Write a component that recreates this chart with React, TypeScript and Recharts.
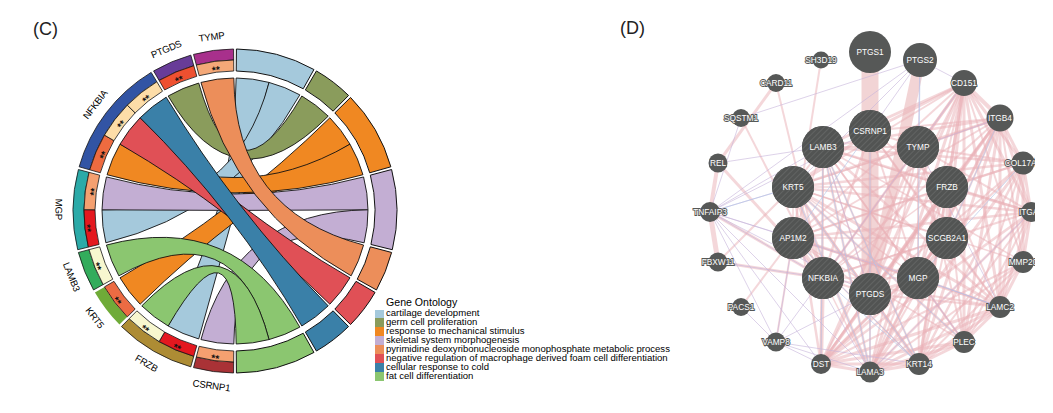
import { Cell, Customized, Legend, Pie, PieChart, ReferenceLine, Scatter, ScatterChart, XAxis, YAxis } from "recharts";

const FONT = "'Liberation Sans', Arial, sans-serif";

// ---- panel C: gene ontology chord ----
const goTerms = [
  "cartilage development",
  "germ cell proliferation",
  "response to mechanical stimulus",
  "skeletal system morphogenesis",
  "pyrimidine deoxyribonucleoside monophosphate metabolic process",
  "negative regulation of macrophage derived foam cell differentiation",
  "cellular response to cold",
  "fat cell differentiation",
];
const goColors = ["#A5C9DC", "#8A9C5C", "#F08822", "#C3AED3", "#EC8E5A", "#E05056", "#3A80A8", "#8BC670"];
const termGenes = [
  ["FRZB", "MGP"],
  ["PTGDS"],
  ["KRT5", "NFKBIA"],
  ["MGP", "CSRNP1"],
  ["TYMP"],
  ["NFKBIA"],
  ["NFKBIA"],
  ["LAMB3", "FRZB"],
];

const genes = ["CSRNP1", "FRZB", "KRT5", "LAMB3", "MGP", "NFKBIA", "PTGDS", "TYMP"];
const geneColors = ["#A93236", "#AD8C34", "#6FAB38", "#33AC5C", "#2BAAA8", "#3254A4", "#683C98", "#A8308C"];
const geneTerms = [
  [3],
  [0, 7],
  [2],
  [7],
  [0, 3],
  [2, 5, 6],
  [1],
  [4],
];
const geneSlotColors = [
  ["#F4A070"],
  ["#E4181F", "#F7F7CF"],
  ["#EC6B43"],
  ["#F7F7CF"],
  ["#E4181F", "#F4A070"],
  ["#EE6B40", "#FDDDA8", "#FDDDA8"],
  ["#EE5030"],
  ["#F4A878"],
];

const CX = 235;
const CY = 211;
const R_LINK = 133;
const R_TRACK = 140;
const R_MID = 151;
const R_OUT = 162;
const GAP = 1;

// clockwise degrees from 12 o'clock, same split the Pie does with paddingAngle
const arcs = (counts: number[], from: number) => {
  const total = counts.reduce((a, b) => a + b, 0);
  const unit = (180 - GAP - GAP * (counts.length - 1)) / total;
  let at = from;
  return counts.map((c) => {
    const start = at;
    const end = at + c * unit;
    at = end + GAP;
    return { start, end, unit };
  });
};

const goArcs = arcs(termGenes.map((t) => t.length), 0.5);
const geneArcs = arcs(geneTerms.map((t) => t.length), 180.5);

const pt = (deg: number, r: number) => {
  const a = (deg * Math.PI) / 180;
  return `${(CX + r * Math.sin(a)).toFixed(2)} ${(CY - r * Math.cos(a)).toFixed(2)}`;
};

const ribbonPath = (a1: number, a2: number, b1: number, b2: number) =>
  `M${pt(a1, R_LINK)} A${R_LINK} ${R_LINK} 0 0 1 ${pt(a2, R_LINK)} Q${CX} ${CY} ${pt(b1, R_LINK)} A${R_LINK} ${R_LINK} 0 0 1 ${pt(b2, R_LINK)} Q${CX} ${CY} ${pt(a1, R_LINK)} Z`;

const Ribbons = () => (
  <g>
    {goTerms.map((_, t) =>
      termGenes[t].map((gene, j) => {
        const g = genes.indexOf(gene);
        const k = geneTerms[g].indexOf(t);
        const ga = geneArcs[g];
        const ta = goArcs[t];
        return (
          <path
            key={`${t}-${j}`}
            d={ribbonPath(ga.start + k * ga.unit, ga.start + (k + 1) * ga.unit, ta.start + j * ta.unit, ta.start + (j + 1) * ta.unit)}
            fill={goColors[t]}
            stroke="#111"
            strokeWidth={0.9}
          />
        );
      }),
    )}
  </g>
);

const geneLabel = (p: any) => {
  const th = ((90 - p.midAngle) % 360 + 360) % 360;
  const a = (th * Math.PI) / 180;
  const x = CX + 176 * Math.sin(a);
  const y = CY - 176 * Math.cos(a);
  const rot = th <= 275 ? th - 180 : th - 360;
  return (
    <text key={p.index} x={x} y={y} transform={`rotate(${rot} ${x} ${y})`} textAnchor="middle" dominantBaseline="central" fontFamily={FONT} fontSize={9.6} letterSpacing={-0.2} fill="#000" stroke="none">
      {p.payload.name}
    </text>
  );
};

const starLabel = (p: any) => {
  const th = ((90 - p.midAngle) % 360 + 360) % 360;
  const a = (th * Math.PI) / 180;
  const x = CX + 145.5 * Math.sin(a);
  const y = CY - 145.5 * Math.cos(a);
  const rot = th <= 270 ? th - 180 : th - 360;
  return (
    <text key={p.index} x={x} y={y} dy={3} transform={`rotate(${rot} ${x} ${y})`} textAnchor="middle" dominantBaseline="central" fontFamily={FONT} fontWeight="bold" fontSize={10} fill="#111" stroke="none">
      {p.payload.sig}
    </text>
  );
};

const GoLegend = () => (
  <div style={{ position: "relative", width: 300, height: 90, fontFamily: FONT, color: "#000" }}>
    <div style={{ position: "absolute", left: 11, top: 0, fontSize: 10.6, lineHeight: "12px" }}>Gene Ontology</div>
    {goTerms.map((term, i) => (
      <div key={term} style={{ position: "absolute", left: 0, top: 13.6 + i * 8.87, height: 8.87, width: 300 }}>
        <span style={{ position: "absolute", left: 0, top: 0, width: 9, height: 8.87, background: goColors[i] }} />
        <span style={{ position: "absolute", left: 11, top: -1.2, fontSize: 9.55, lineHeight: "10px", whiteSpace: "nowrap" }}>{term}</span>
      </div>
    ))}
  </div>
);

// ---- panel D: gene network ----
const nodeNames = [
  "PTGS1", "PTGS2", "SH3D19", "CARD11", "CD151", "SQSTM1", "ITGB4", "CSRNP1", "LAMB3", "TYMP",
  "REL", "COL17A1", "KRT5", "FRZB", "TNFAIP3", "ITGA6", "AP1M2", "SCGB2A1", "FBXW11", "MMP20",
  "NFKBIA", "MGP", "PTGDS", "PACS1", "LAMC2", "VAMP8", "PLEC", "DST", "KRT14", "LAMA3",
];
const nodeX = [870, 920, 821, 776, 964, 741, 1000, 870, 823, 918, 718, 1023, 793, 947, 710, 1031, 793, 947, 718, 1023, 823, 918, 870, 741, 1000, 776, 964, 821, 919, 870];
const nodeY = [52, 60, 60, 83, 83, 118, 118, 131, 147, 147, 163, 163, 187, 187, 212, 212, 238, 238, 262, 262, 278, 278, 294, 307, 307, 342, 342, 364, 364, 372];
const nodeWeight = [21, 17, 8.5, 9, 13, 9, 13.5, 21, 21, 21, 9.5, 11.5, 21, 21, 10, 10, 21, 21, 9.5, 11, 21, 21, 21, 9, 11, 9.5, 11, 10, 11, 10.5];
const queryGenes = ["CSRNP1", "LAMB3", "TYMP", "KRT5", "FRZB", "AP1M2", "SCGB2A1", "NFKBIA", "MGP", "PTGDS"];

type Edge = [string, string, number];
const coexpression: Edge[] = [
  ["CSRNP1", "NFKBIA", 2.5], ["CSRNP1", "CD151", 3], ["CSRNP1", "ITGB4", 2], ["CSRNP1", "TYMP", 2],
  ["CSRNP1", "MGP", 2], ["CSRNP1", "SCGB2A1", 2], ["CSRNP1", "PTGDS", 3], ["CSRNP1", "KRT5", 3], ["CSRNP1", "FRZB", 2], ["CSRNP1", "LAMC2", 2],
  ["LAMB3", "CD151", 3], ["LAMB3", "ITGB4", 2.5], ["LAMB3", "COL17A1", 2.5], ["LAMB3", "ITGA6", 2.5], ["LAMB3", "LAMC2", 2.5], ["LAMB3", "LAMA3", 2.5],
  ["LAMB3", "KRT14", 2], ["LAMB3", "DST", 2], ["LAMB3", "PLEC", 2], ["LAMB3", "KRT5", 2], ["LAMB3", "MMP20", 1.5], ["LAMB3", "FRZB", 1.5],
  ["LAMB3", "MGP", 1.5], ["LAMB3", "AP1M2", 1.5], ["LAMB3", "PTGDS", 1.5], ["LAMB3", "NFKBIA", 1.5], ["LAMB3", "TYMP", 2],
  ["KRT5", "CD151", 2], ["KRT5", "ITGB4", 2.5], ["KRT5", "COL17A1", 2.5], ["KRT5", "ITGA6", 2.5], ["KRT5", "LAMC2", 3], ["KRT5", "LAMA3", 3],
  ["KRT5", "KRT14", 3.5], ["KRT5", "DST", 2.5], ["KRT5", "PLEC", 2.5], ["KRT5", "MMP20", 1.5], ["KRT5", "FRZB", 1.5], ["KRT5", "SCGB2A1", 1.5],
  ["KRT5", "MGP", 1.5], ["KRT5", "TYMP", 1.5], ["KRT5", "AP1M2", 1.5], ["KRT5", "PTGDS", 2], ["KRT5", "NFKBIA", 3],
  ["CD151", "ITGB4", 4], ["CD151", "COL17A1", 3], ["CD151", "ITGA6", 3], ["CD151", "MMP20", 2], ["CD151", "LAMC2", 3], ["CD151", "PLEC", 3],
  ["CD151", "KRT14", 3], ["CD151", "LAMA3", 3], ["CD151", "DST", 2], ["CD151", "MGP", 2], ["CD151", "SCGB2A1", 3], ["CD151", "PTGDS", 3],
  ["CD151", "TYMP", 3], ["CD151", "FRZB", 3], ["CD151", "AP1M2", 2], ["CD151", "NFKBIA", 2.5],
  ["ITGB4", "COL17A1", 3], ["ITGB4", "ITGA6", 3], ["ITGB4", "MMP20", 2], ["ITGB4", "LAMC2", 3], ["ITGB4", "PLEC", 3], ["ITGB4", "KRT14", 3],
  ["ITGB4", "LAMA3", 3], ["ITGB4", "DST", 3], ["ITGB4", "SCGB2A1", 2], ["ITGB4", "TYMP", 2], ["ITGB4", "AP1M2", 2], ["ITGB4", "MGP", 2],
  ["ITGB4", "PTGDS", 2.5], ["ITGB4", "FRZB", 2.5], ["ITGB4", "NFKBIA", 2],
  ["COL17A1", "ITGA6", 3], ["COL17A1", "MMP20", 3], ["COL17A1", "LAMC2", 3], ["COL17A1", "PLEC", 2], ["COL17A1", "KRT14", 2.5], ["COL17A1", "LAMA3", 3],
  ["COL17A1", "DST", 2], ["COL17A1", "TYMP", 2], ["COL17A1", "FRZB", 2], ["COL17A1", "AP1M2", 2], ["COL17A1", "PTGDS", 2],
  ["ITGA6", "MMP20", 3], ["ITGA6", "LAMC2", 3], ["ITGA6", "PLEC", 2], ["ITGA6", "KRT14", 2], ["ITGA6", "LAMA3", 2.5], ["ITGA6", "DST", 2.5],
  ["ITGA6", "AP1M2", 2.5], ["ITGA6", "FRZB", 2.5], ["ITGA6", "TYMP", 2], ["ITGA6", "NFKBIA", 2],
  ["MMP20", "LAMC2", 3], ["MMP20", "PLEC", 2], ["MMP20", "KRT14", 2], ["MMP20", "LAMA3", 2], ["MMP20", "DST", 2],
  ["LAMC2", "PLEC", 3], ["LAMC2", "KRT14", 3], ["LAMC2", "LAMA3", 3], ["LAMC2", "DST", 3], ["LAMC2", "MGP", 2], ["LAMC2", "AP1M2", 2],
  ["LAMC2", "NFKBIA", 2], ["LAMC2", "FRZB", 2], ["LAMC2", "SCGB2A1", 2], ["LAMC2", "PTGDS", 2],
  ["PLEC", "KRT14", 3], ["PLEC", "LAMA3", 3], ["PLEC", "DST", 3], ["PLEC", "TYMP", 2], ["PLEC", "FRZB", 2], ["PLEC", "MGP", 2], ["PLEC", "AP1M2", 1.5],
  ["KRT14", "LAMA3", 3], ["KRT14", "DST", 3], ["KRT14", "PTGDS", 2], ["KRT14", "SCGB2A1", 2], ["KRT14", "MGP", 2], ["KRT14", "AP1M2", 1.5], ["KRT14", "FRZB", 2],
  ["LAMA3", "DST", 3], ["LAMA3", "PTGDS", 2], ["LAMA3", "MGP", 2], ["LAMA3", "TYMP", 2], ["LAMA3", "FRZB", 2], ["LAMA3", "SCGB2A1", 2], ["LAMA3", "NFKBIA", 1.5],
  ["DST", "NFKBIA", 4], ["DST", "MGP", 3], ["DST", "SCGB2A1", 3], ["DST", "FRZB", 3], ["DST", "TYMP", 3], ["DST", "PTGDS", 2],
  ["AP1M2", "NFKBIA", 3], ["AP1M2", "PTGDS", 2], ["AP1M2", "FRZB", 1.5], ["AP1M2", "SCGB2A1", 1.5], ["AP1M2", "MGP", 3],
  ["NFKBIA", "PTGDS", 2], ["NFKBIA", "MGP", 1.5], ["NFKBIA", "TYMP", 1.5], ["NFKBIA", "FRZB", 1.5], ["NFKBIA", "SCGB2A1", 1.5], ["NFKBIA", "REL", 3],
  ["NFKBIA", "TNFAIP3", 3], ["NFKBIA", "FBXW11", 3], ["NFKBIA", "SQSTM1", 2], ["NFKBIA", "CARD11", 2],
  ["TYMP", "PTGDS", 2], ["TYMP", "MGP", 2], ["TYMP", "SCGB2A1", 2], ["FRZB", "PTGDS", 3], ["FRZB", "MGP", 2], ["FRZB", "SCGB2A1", 3],
  ["MGP", "PTGDS", 3], ["MGP", "SCGB2A1", 3], ["CARD11", "REL", 3], ["REL", "TNFAIP3", 4], ["TNFAIP3", "FBXW11", 5], ["SH3D19", "AP1M2", 2],
  ["PACS1", "AP1M2", 2], ["VAMP8", "AP1M2", 2], ["FBXW11", "KRT5", 2],
];
const pathway: Edge[] = [
  ["TNFAIP3", "KRT5", 1], ["TNFAIP3", "LAMB3", 1], ["TNFAIP3", "CSRNP1", 1], ["TNFAIP3", "PTGS2", 1], ["TNFAIP3", "AP1M2", 1], ["TNFAIP3", "NFKBIA", 1],
  ["TNFAIP3", "PTGDS", 1], ["TNFAIP3", "MGP", 1], ["TNFAIP3", "VAMP8", 1], ["TNFAIP3", "SQSTM1", 1], ["TNFAIP3", "LAMA3", 1], ["TNFAIP3", "DST", 1],
  ["SQSTM1", "PTGS2", 1], ["REL", "LAMB3", 1], ["KRT5", "PTGS2", 1], ["VAMP8", "NFKBIA", 1], ["VAMP8", "PTGDS", 1], ["VAMP8", "DST", 1],
  ["VAMP8", "LAMA3", 1], ["VAMP8", "KRT14", 1], ["VAMP8", "AP1M2", 1], ["PTGS2", "TYMP", 1], ["PTGS2", "CD151", 1], ["PTGS2", "CSRNP1", 1],
  ["ITGB4", "TYMP", 1], ["LAMC2", "TYMP", 1], ["LAMC2", "MGP", 1], ["ITGA6", "LAMA3", 1], ["PACS1", "VAMP8", 1], ["FBXW11", "NFKBIA", 1],
  ["AP1M2", "LAMA3", 1], ["NFKBIA", "CD151", 1], ["MGP", "PLEC", 1], ["LAMB3", "PTGDS", 1],
];
const colocalization: Edge[] = [
  ["TNFAIP3", "KRT5", 1], ["LAMB3", "LAMA3", 1], ["KRT5", "PLEC", 1], ["PTGS2", "MGP", 1], ["AP1M2", "KRT14", 1], ["NFKBIA", "KRT14", 1],
  ["LAMB3", "DST", 1], ["CSRNP1", "LAMA3", 1], ["MGP", "LAMC2", 1], ["KRT5", "LAMA3", 1], ["COL17A1", "MGP", 1], ["ITGB4", "SCGB2A1", 1],
  ["LAMB3", "KRT14", 1], ["KRT5", "KRT14", 1], ["CSRNP1", "AP1M2", 1],
];
const heavyEdge: Edge[] = [["PTGS1", "PTGDS", 17], ["PTGS2", "PTGDS", 11]];

const nodes = nodeNames.map((name, i) => ({ name, x: nodeX[i], y: nodeY[i], weight: nodeWeight[i] }));
const byName = (name: string) => nodes[nodeNames.indexOf(name)];

const edgeLines = (edges: Edge[], color: string, opacity: number, tag: string) =>
  edges.map(([a, b, w], i) => {
    const p = byName(a);
    const q = byName(b);
    return (
      <ReferenceLine
        key={`${tag}${i}`}
        segment={[{ x: p.x, y: p.y }, { x: q.x, y: q.y }]}
        stroke={color}
        strokeOpacity={opacity}
        strokeWidth={w}
        ifOverflow="visible"
      />
    );
  });

const NodeDot = (p: any) => {
  const hatched = queryGenes.includes(p.payload.name);
  return (
    <g>
      <circle cx={p.cx} cy={p.cy} r={p.payload.weight} fill="#565857" />
      {hatched && <circle cx={p.cx} cy={p.cy} r={p.payload.weight} fill="url(#nodeHatch)" />}
      <text
        x={p.cx}
        y={p.cy}
        textAnchor="middle"
        dominantBaseline="central"
        fontFamily={FONT}
        fontSize={8.3}
        fill="#FFFFFF"
        stroke={hatched ? "none" : "#565857"}
        strokeWidth={1.8}
        style={{ paintOrder: "stroke" }}
      >
        {p.payload.name}
      </text>
    </g>
  );
};

export default function App() {
  return (
    <div style={{ position: "absolute", left: 0, top: 0, width: 1053, height: 413, background: "#fff", overflow: "hidden", fontFamily: FONT }}>
      <div style={{ position: "absolute", left: 33, top: 18, fontSize: 18, lineHeight: "22px", color: "#222" }}>(C)</div>
      <div style={{ position: "absolute", left: 620, top: 17, fontSize: 18, lineHeight: "22px", color: "#222" }}>(D)</div>

      <div style={{ position: "absolute", left: 0, top: 0 }}>
        <PieChart width={700} height={413} margin={{ top: 0, right: 0, bottom: 0, left: 0 }}>
          <Customized component={<Ribbons />} />
          <Pie
            data={goTerms.map((name, i) => ({ name, value: termGenes[i].length }))}
            dataKey="value"
            cx={CX}
            cy={CY}
            innerRadius={R_TRACK}
            outerRadius={R_OUT}
            startAngle={89.5}
            endAngle={-89.5}
            paddingAngle={GAP}
            stroke="#111"
            strokeWidth={1}
            isAnimationActive={false}
            legendType="none"
          >
            {goTerms.map((t, i) => (
              <Cell key={t} fill={goColors[i]} />
            ))}
          </Pie>
          <Pie
            data={genes.map((name, i) => ({ name, value: geneTerms[i].length }))}
            dataKey="value"
            cx={CX}
            cy={CY}
            innerRadius={R_MID}
            outerRadius={R_OUT}
            startAngle={-90.5}
            endAngle={-269.5}
            paddingAngle={GAP}
            stroke="#111"
            strokeWidth={0.8}
            isAnimationActive={false}
            label={geneLabel}
            labelLine={false}
            legendType="none"
          >
            {genes.map((g, i) => (
              <Cell key={g} fill={geneColors[i]} stroke={g === "KRT5" ? "none" : "#111"} />
            ))}
          </Pie>
          {genes.map((g, i) => (
            <Pie
              key={g}
              data={geneTerms[i].map((t) => ({ name: goTerms[t], value: 1, sig: "**" }))}
              dataKey="value"
              cx={CX}
              cy={CY}
              innerRadius={R_TRACK}
              outerRadius={R_MID}
              startAngle={90 - geneArcs[i].start}
              endAngle={90 - geneArcs[i].end}
              stroke="#111"
              strokeWidth={0.8}
              isAnimationActive={false}
              label={starLabel}
              labelLine={false}
              legendType="none"
            >
              {geneSlotColors[i].map((c, j) => (
                <Cell key={j} fill={c} />
              ))}
            </Pie>
          ))}
          <Legend content={<GoLegend />} layout="vertical" wrapperStyle={{ left: 375, top: 296, width: 300, bottom: "auto", right: "auto" }} />
        </PieChart>
      </div>

      <div style={{ position: "absolute", left: 600, top: 0 }}>
        <ScatterChart width={435} height={413} margin={{ top: 0, right: 0, bottom: 0, left: 0 }}>
          <defs>
            <pattern id="nodeHatch" width="4" height="4" patternUnits="userSpaceOnUse" patternTransform="rotate(45)">
              <rect width="4" height="4" fill="#525453" />
              <line x1="0" y1="0" x2="0" y2="4" stroke="#666867" strokeWidth="1.6" />
            </pattern>
          </defs>
          <XAxis type="number" dataKey="x" domain={[600, 1035]} hide />
          <YAxis type="number" dataKey="y" domain={[0, 413]} reversed hide />
          {edgeLines(heavyEdge, "#EFC9CB", 0.8, "h")}
          {edgeLines(coexpression, "#E9B0B6", 0.5, "c")}
          {edgeLines(pathway, "#C6B4DB", 0.6, "p")}
          {edgeLines(colocalization, "#B4C4E8", 0.65, "l")}
          <Scatter data={nodes} shape={<NodeDot />} isAnimationActive={false} />
        </ScatterChart>
      </div>
    </div>
  );
}
